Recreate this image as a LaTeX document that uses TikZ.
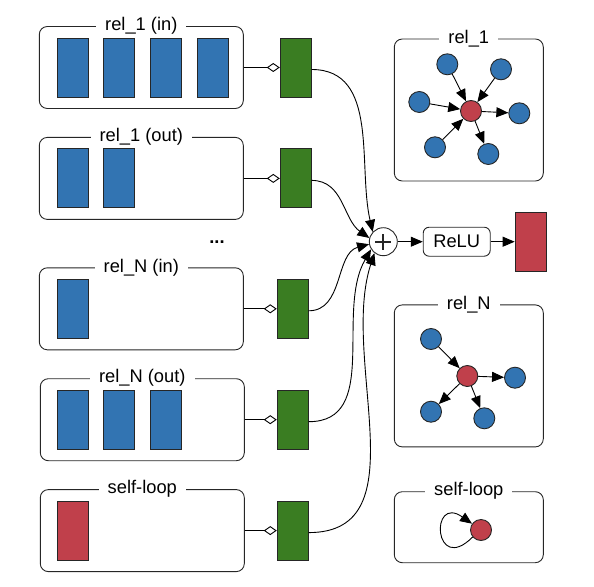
\documentclass[tikz,border=0pt]{standalone}
\usepackage{fontspec}
\setmainfont{Liberation Sans}
\usepackage{xcolor}
\usetikzlibrary{positioning, arrows.meta}

\definecolor{featblue}{RGB}{50,116,178}
\definecolor{wgreen}{RGB}{58,125,34}
\definecolor{selfred}{RGB}{192,64,75}

\begin{document}
\begin{tikzpicture}[x=1pt, y=-1pt, node distance=28pt and 36pt, line width=0.9pt,
	font=\fontsize{18.3}{21}\selectfont]
	
	% Styles
	\tikzset{
		relbox/.style={
			rectangle, draw=black!85, rounded corners=8pt,
			minimum width=204pt, minimum height=82pt, inner sep=0pt
		},
		panel/.style={
			rectangle, draw=black!85, rounded corners=8pt,
			minimum width=149pt, inner sep=0pt
		},
		boxlabel/.style={
			fill=white, inner xsep=9pt, inner ysep=1pt
		},
		feat/.style={
			rectangle, draw=black!85, fill=featblue,
			minimum width=31pt, minimum height=59pt, inner sep=0pt
		},
		selffeat/.style={feat, fill=selfred},
		weight/.style={feat, fill=wgreen},
		gnode/.style={
			circle, draw=black!85, fill=featblue, minimum size=21pt, inner sep=0pt
		},
		gcenter/.style={gnode, fill=selfred},
		link/.style={-{Diamond[open, length=13pt, width=9pt]}},
		arr/.style={-{Triangle[length=12pt, width=10pt]}}
	}
	
	\useasboundingbox (0,0) rectangle (594,586);
	
	% Relation boxes
	\node (box1) [relbox] at (141.3,67.5) {};
	\node (box2) [relbox, below=of box1] {};
	\node (box3) [relbox, below=47.5pt of box2] {};
	\node (box4) [relbox, below=of box3, xshift=1pt] {};
	\node (box5) [relbox, below=of box4] {};
	
	\node (l1) [boxlabel] at (box1.north) {rel\_1 (in)};
	\node (l2) [boxlabel] at (box2.north) {rel\_1 (out)};
	\node (l3) [boxlabel] at (box3.north) {rel\_N (in)};
	\node (l4) [boxlabel] at (box4.north) {rel\_N (out)};
	\node (l5) [boxlabel] at (box5.north) {self-loop};
	
	\node (dots) at (217,242) {\bfseries ...};
	
	% Neighbour features
	\node (f11) [feat, right=18pt of box1.west] {};
	\node (f12) [feat, right=14.7pt of f11] {};
	\node (f13) [feat, right=14.7pt of f12] {};
	\node (f14) [feat, right=14.7pt of f13] {};
	
	\node (f21) [feat, right=18pt of box2.west] {};
	\node (f22) [feat, right=14.7pt of f21] {};
	
	\node (f31) [feat, right=18pt of box3.west] {};
	
	\node (f41) [feat, right=17pt of box4.west] {};
	\node (f42) [feat, right=14.7pt of f41] {};
	\node (f43) [feat, right=14.7pt of f42] {};
	
	\node (f51) [selffeat, right=17pt of box5.west] {};
	
	% Weights
	\node (w1) [weight, right=of box1] {};
	\node (w2) [weight, right=of box2] {};
	\node (w3) [weight, right=33pt of box3] {};
	\node (w4) [weight, right=32pt of box4] {};
	\node (w5) [weight, right=32pt of box5] {};
	
	\draw[link] (box1.east) -- (w1.west);
	\draw[link] (box2.east) -- (w2.west);
	\draw[link] (box3.east) -- (w3.west);
	\draw[link] (box4.east) -- (w4.west);
	\draw[link] (box5.east) -- (w5.west);
	
	% Sum, activation, output
	\node (plus) [circle, draw=black!85, fill=white, minimum size=28pt, inner sep=0pt,
		path picture={
			\draw[line width=1.8pt] (path picture bounding box.center) ++(-8pt,0pt) -- ++(16pt,0pt);
			\draw[line width=1.8pt] (path picture bounding box.center) ++(0pt,-8pt) -- ++(0pt,16pt);
		}] at (383.3,241.7) {};
	\node (relu) [rectangle, draw=black!85, rounded corners=6pt, minimum width=67pt,
		minimum height=29pt, inner sep=0pt, right=25pt of plus] {ReLU};
	\node (out) [selffeat, right=24pt of relu] {};
	
	\draw[arr] (plus) -- (relu);
	\draw[arr] (relu) -- (out);
	
	\draw[arr] (w1.east) ++(0pt,-2pt) to[out=0, in=103] (plus.137);
	\draw[arr] (w2.east) ++(0pt,-2pt) to[out=0, in=145] (plus.165);
	\draw[arr] (w3.east) ++(0pt,-2pt) to[out=0, in=195] (plus.190);
	\draw[arr] (w4.east) ++(0pt,-2pt) to[out=0, in=240] (plus.212);
	\draw[arr] (w5.east) ++(0pt,-2pt) to[out=0, in=252] (plus.232);
	
	% Graph panels
	\node (p1) [panel, minimum height=142pt] at (468.8,110) {};
	\node (p2) [panel, minimum height=142pt] at (468.8,375.9) {};
	\node (p3) [panel, minimum height=71pt] at (468.8,527.2) {};
	
	\node (pl1) [boxlabel] at (p1.north) {rel\_1};
	\node (pl2) [boxlabel] at (p2.north) {rel\_N};
	\node (pl3) [boxlabel] at (p3.north) {self-loop};
	
	% rel_1 neighbourhood
	\node (c1) [gcenter] at (471,111) {};
	\node (a1) [gnode] at (447.3,64.3) {};
	\node (a2) [gnode] at (501,69.3) {};
	\node (a3) [gnode] at (419.3,102) {};
	\node (a4) [gnode] at (519.3,113.3) {};
	\node (a5) [gnode] at (435,147.3) {};
	\node (a6) [gnode] at (488.3,154) {};
	
	\draw[arr] (a1) -- (c1);
	\draw[arr] (a2) -- (c1);
	\draw[arr] (a3) -- (c1);
	\draw[arr] (c1) -- (a4);
	\draw[arr] (a5) -- (c1);
	\draw[arr] (c1) -- (a6);
	
	% rel_N neighbourhood
	\node (c2) [gcenter] at (467.3,376) {};
	\node (b1) [gnode] at (431,339) {};
	\node (b2) [gnode] at (515,377.7) {};
	\node (b3) [gnode] at (431,411.7) {};
	\node (b4) [gnode] at (484.3,418.3) {};
	
	\draw[arr] (b1) -- (c2);
	\draw[arr] (c2) -- (b2);
	\draw[arr] (c2) -- (b3);
	\draw[arr] (c2) -- (b4);
	
	% self-loop
	\node (c3) [gcenter] at (481,530) {};
	\draw[arr] (c3.220) .. controls +(225:55pt) and +(145:52pt) .. (c3.145);
	
\end{tikzpicture}
\end{document}
